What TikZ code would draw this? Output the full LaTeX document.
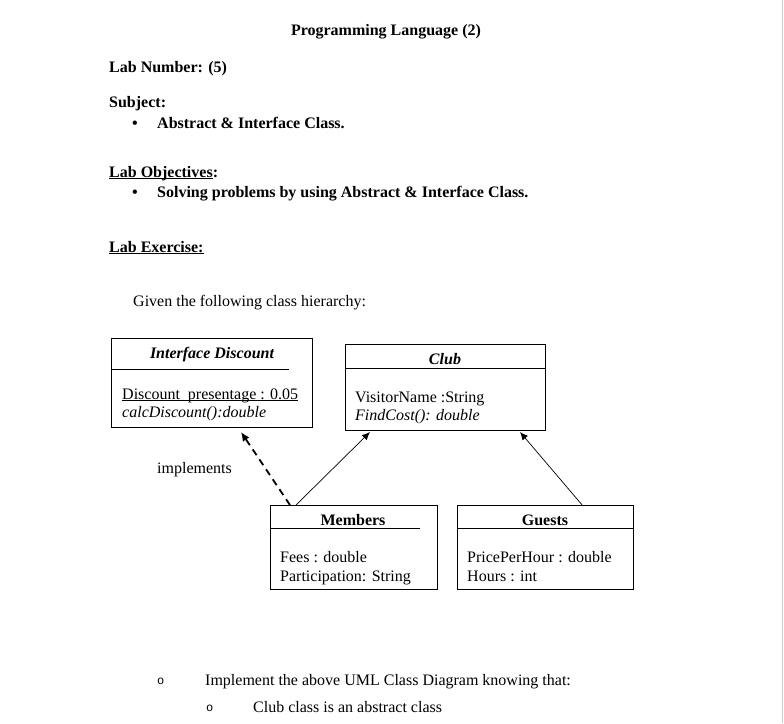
\documentclass[tikz,border=0pt]{standalone}
\usepackage{fontspec}
\setmainfont{Liberation Serif}
\newfontfamily\monof{Liberation Mono}
\usetikzlibrary{arrows.meta}
\newcommand\myul[1]{\setbox0\hbox{#1}\rlap{\rule[-2.2pt]{\wd0}{1pt}}\box0}
\begin{document}
\begin{tikzpicture}[x=1pt,y=-1pt,
  txt/.style={anchor=base west,inner sep=0pt,font=\fontsize{16}{19}\selectfont},
  ctxt/.style={anchor=base,inner sep=0pt,font=\fontsize{16}{19}\selectfont},
  umlbox/.style={draw,line width=0.9pt,anchor=north west,inner sep=0pt},
  sep/.style={line width=0.9pt},
  inh/.style={line width=0.7pt,-{Latex[length=8pt,width=7pt]}},
  impl/.style={line width=1.8pt,dash pattern=on 7pt off 5pt,-{Latex[length=9pt,width=8pt]}},
  obul/.style={anchor=base west,inner sep=0pt,font=\monof\fontsize{12}{14}\selectfont}]
\useasboundingbox[fill=white] (0,0) rectangle (784,723);
\draw[gray!40,line width=1pt] (782.5,0) -- (782.5,723);
% header texts
\node[ctxt] (title) at (386,35) {\bfseries Programming Language (2)};
\node[txt] (labno) at (109,72) {\bfseries Lab Number: (5)};
\node[txt] (subj) at (109,107) {\bfseries Subject:};
\node[txt] (b1) at (132,128) {\bfseries •};
\node[txt] (abs) at (157,128) {\bfseries Abstract \& Interface Class.};
\node[txt] (obj) at (109,177) {\bfseries \myul{Lab Objectives}:};
\node[txt] (b2) at (132,197) {\bfseries •};
\node[txt] (solv) at (157,197) {\bfseries Solving problems by using Abstract \& Interface Class.};
\node[txt] (ex) at (109,252) {\bfseries \myul{Lab Exercise:}};
\node[txt] (given) at (133,306) {Given the following class hierarchy:};
% boxes
\node[umlbox,minimum width=201pt,minimum height=89pt] (disc) at (111,338) {};
\draw[sep] (111,369) -- (289,369);
\node[ctxt] (discT) at (212,358) {\bfseries\itshape Interface Discount};
\node[txt] (discA) at (122,399) {\myul{Discount\ \ presentage : 0.05}};
\node[txt] (discB) at (122,417) {\itshape calcDiscount():double};

\node[umlbox,minimum width=200pt,minimum height=86pt] (club) at (345,344) {};
\draw[sep] (club.west |- 0,368) -- (club.east |- 0,368);
\node[ctxt] (clubT) at (445,364) {\bfseries\itshape Club};
\node[txt] (clubA) at (355,402) {VisitorName :String};
\node[txt] (clubB) at (355,420) {\itshape FindCost(): double};

\node[umlbox,minimum width=167pt,minimum height=84pt] (mem) at (270,505) {};
\draw[sep] (270,528) -- (420,528);
\node[ctxt] (memT) at (353,525) {\bfseries Members};
\node[txt] (memA) at (280,562) {Fees : double};
\node[txt] (memB) at (280,581) {Participation: String};

\node[umlbox,minimum width=176pt,minimum height=84pt] (gst) at (457,505) {};
\draw[sep] (gst.west |- 0,528) -- (gst.east |- 0,528);
\node[ctxt] (gstT) at (545,525) {\bfseries Guests};
\node[txt] (gstA) at (467,562) {PricePerHour : double};
\node[txt] (gstB) at (467,581) {Hours : int};

% connector end points
\coordinate (memL) at (290,505);
\coordinate (memR) at (296,505);
\coordinate (gstTop) at (583,506);
\coordinate (discBot) at (241,432);
\coordinate (clubL) at (370,432);
\coordinate (clubR) at (520,432);
\draw[impl] (memL) -- (discBot);
\draw[inh] (memR) -- (clubL);
\draw[inh] (gstTop) -- (clubR);
\node[txt] (implab) at (157,473) {implements};

% bottom list
\node[obul] (o1) at (157,684) {o};
\node[txt] (impl) at (205,685) {Implement the above UML Class Diagram knowing that:};
\node[obul] (o2) at (206,711) {o};
\node[txt] (clubabs) at (253,712) {Club class is an abstract class};
\end{tikzpicture}
\end{document}
